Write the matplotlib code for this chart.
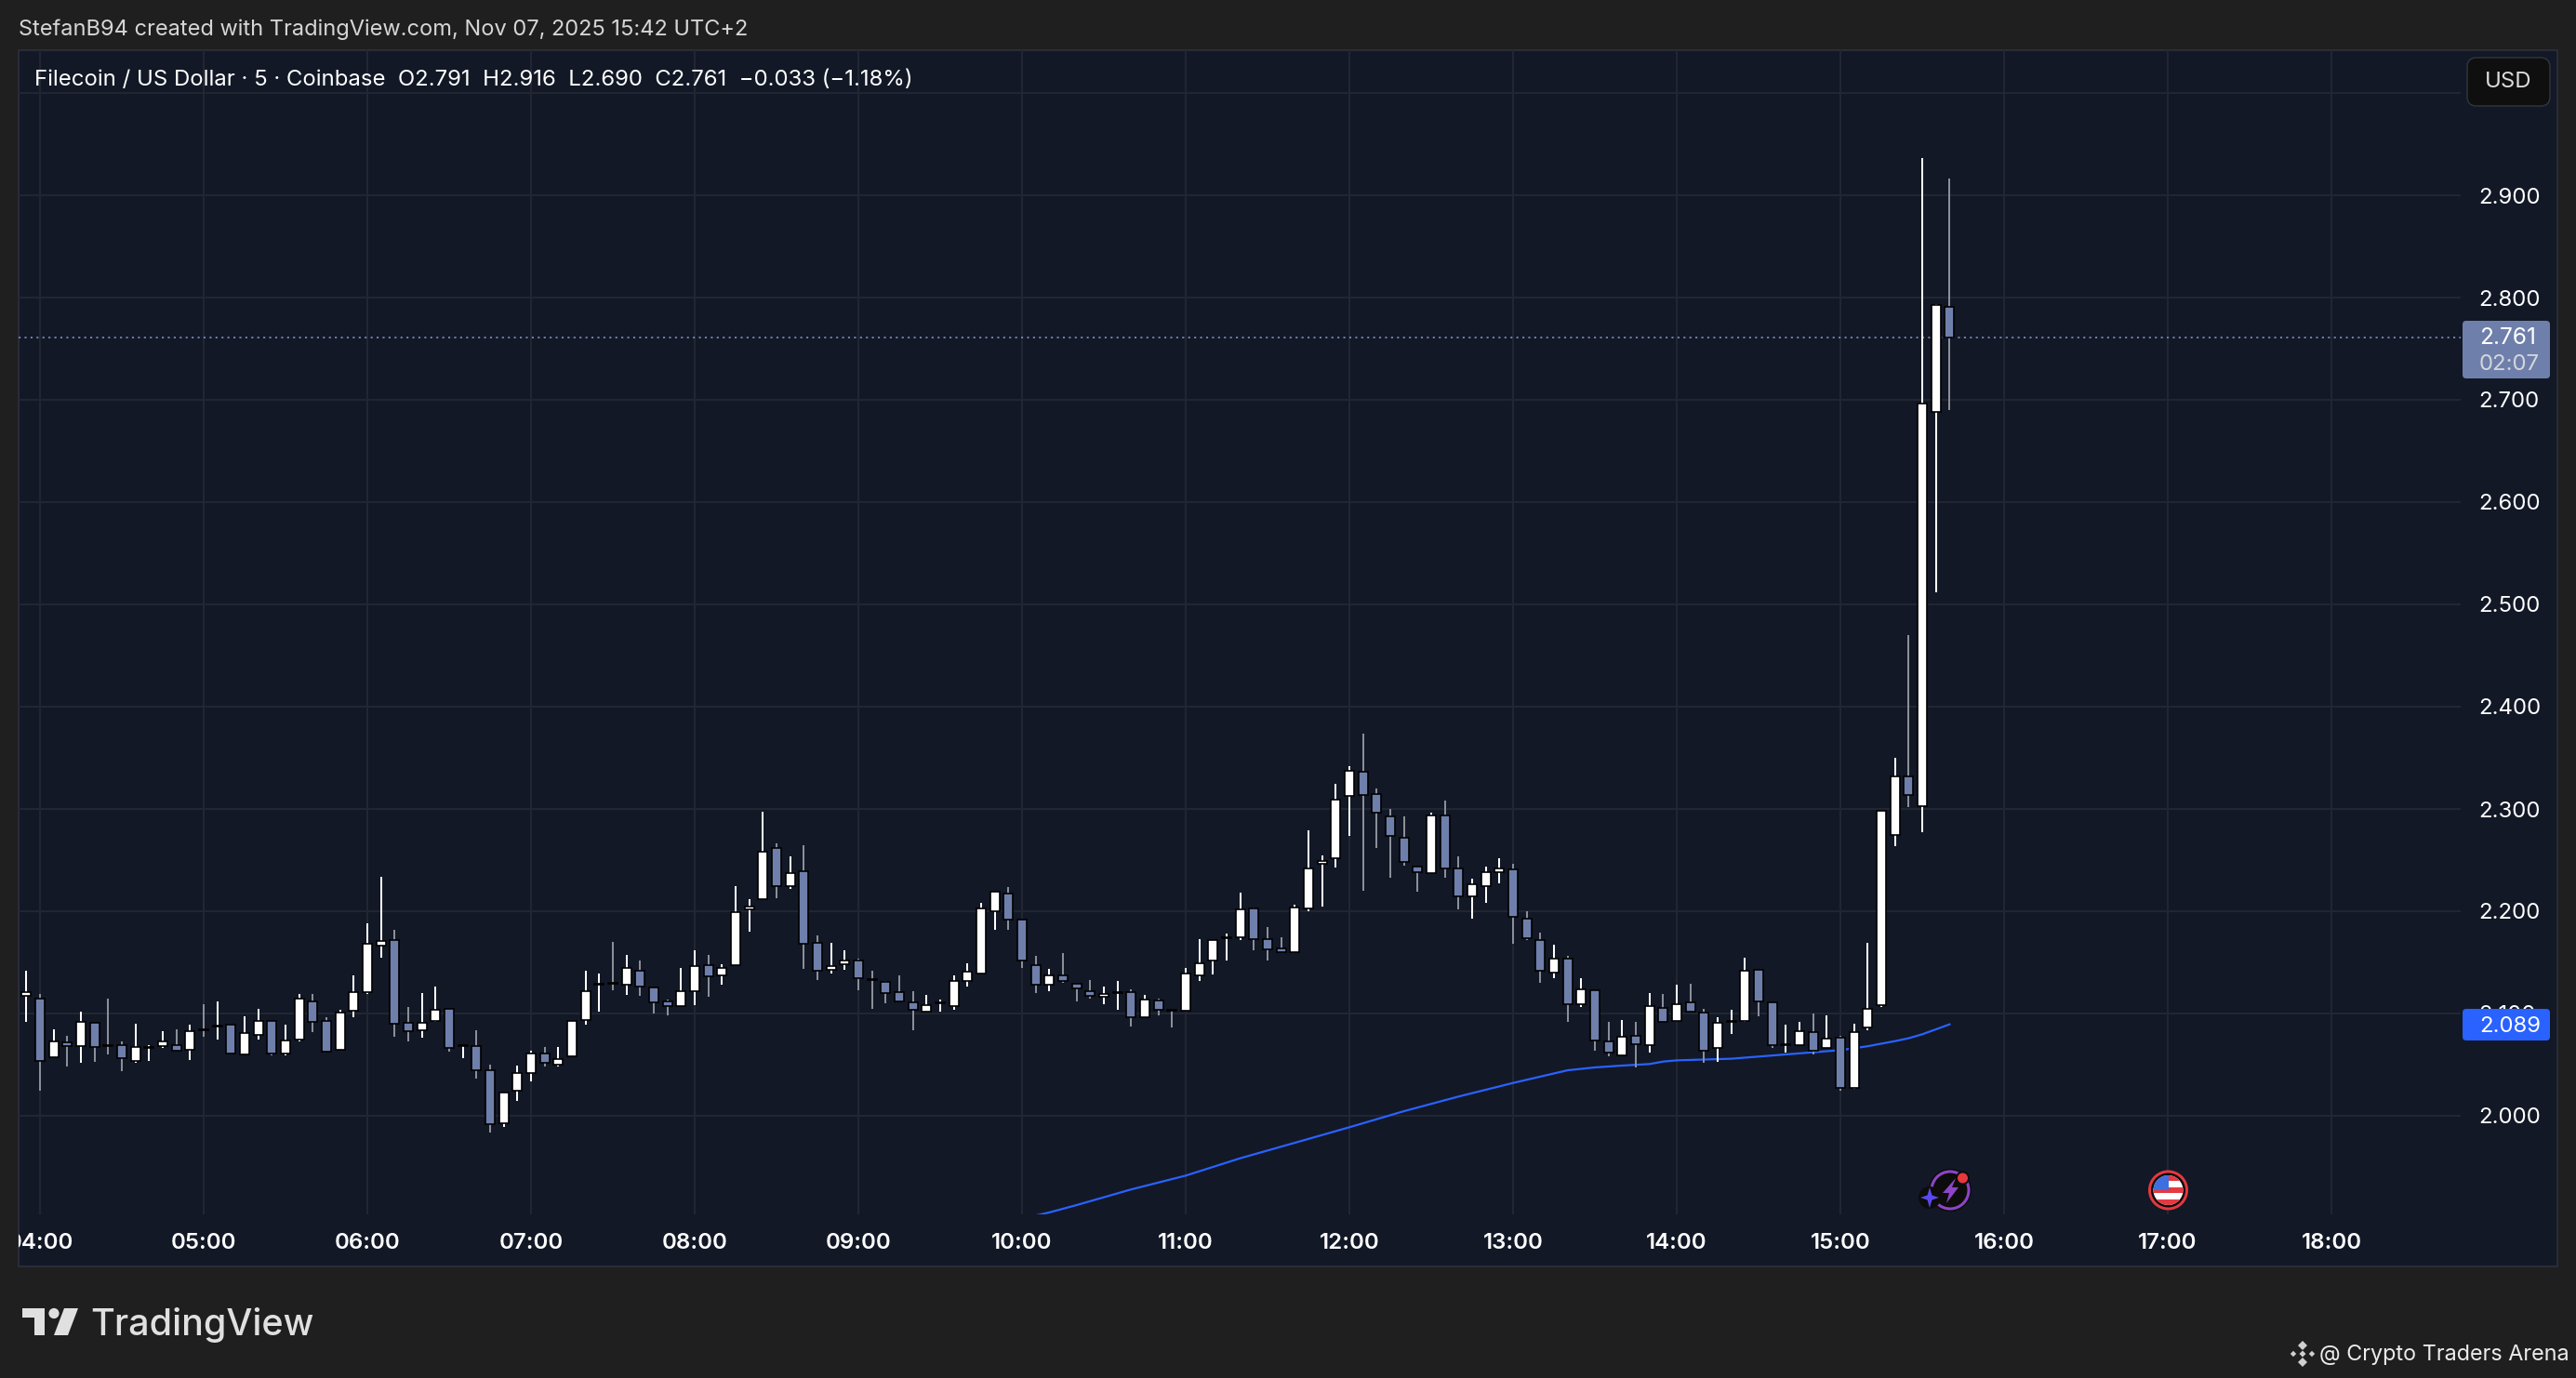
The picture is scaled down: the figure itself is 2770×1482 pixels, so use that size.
import numpy as np
import matplotlib
matplotlib.use("Agg")
import matplotlib.pyplot as plt
from matplotlib.patches import Rectangle, FancyBboxPatch, Circle, Polygon
from matplotlib.transforms import Affine2D, Bbox

W, H = 2770, 1482
plt.rcParams['font.family'] = ['Inter', 'DejaVu Sans']

# ---------- data: 5-minute candles, index 0 = 04:00 ----------
first_index = -1
opens = [2.117,2.115,2.057,2.072,2.068,2.091,2.069,2.069,2.054,2.066,2.068,2.069,2.065,2.085,2.087,2.089,2.060,2.079,2.093,2.061,
2.075,2.112,2.093,2.065,2.103,2.121,2.166,2.172,2.091,2.084,2.093,2.105,2.068,2.068,2.045,1.993,2.025,2.042,2.061,2.050,
2.058,2.094,2.128,2.130,2.128,2.142,2.125,2.112,2.107,2.122,2.147,2.137,2.147,2.202,2.212,2.262,2.225,2.239,2.169,2.143,
2.148,2.152,2.134,2.131,2.121,2.111,2.102,2.110,2.107,2.132,2.139,2.200,2.217,2.192,2.147,2.128,2.137,2.129,2.122,2.116,
2.120,2.121,2.096,2.113,2.104,2.103,2.137,2.152,2.174,2.175,2.203,2.173,2.164,2.160,2.203,2.246,2.252,2.313,2.336,2.315,
2.293,2.272,2.244,2.237,2.294,2.242,2.215,2.225,2.238,2.241,2.193,2.172,2.140,2.154,2.109,2.123,2.073,2.059,2.078,2.069,
2.105,2.093,2.111,2.101,2.066,2.092,2.093,2.143,2.111,2.069,2.069,2.082,2.066,2.076,2.027,2.086,2.108,2.275,2.332,2.303,
2.688,2.791]
highs = [2.142,2.119,2.085,2.078,2.102,2.091,2.115,2.073,2.090,2.069,2.083,2.085,2.089,2.109,2.112,2.089,2.097,2.105,2.093,2.089,
2.119,2.119,2.096,2.104,2.137,2.188,2.234,2.182,2.106,2.120,2.126,2.105,2.069,2.084,2.050,2.023,2.049,2.064,2.067,2.067,
2.093,2.142,2.139,2.170,2.157,2.152,2.125,2.114,2.145,2.162,2.157,2.148,2.225,2.212,2.297,2.266,2.254,2.265,2.176,2.169,
2.162,2.154,2.142,2.132,2.137,2.122,2.118,2.114,2.137,2.149,2.208,2.219,2.224,2.192,2.156,2.144,2.159,2.129,2.133,2.126,
2.132,2.124,2.118,2.115,2.104,2.145,2.173,2.172,2.178,2.218,2.204,2.185,2.175,2.206,2.279,2.255,2.325,2.342,2.374,2.320,
2.300,2.293,2.244,2.296,2.308,2.254,2.232,2.244,2.252,2.246,2.200,2.179,2.167,2.156,2.135,2.123,2.092,2.094,2.092,2.120,
2.119,2.128,2.129,2.105,2.096,2.104,2.155,2.143,2.111,2.089,2.092,2.100,2.098,2.078,2.090,2.169,2.298,2.350,2.470,2.936,
2.794,2.916]
lows = [2.092,2.025,2.057,2.048,2.052,2.053,2.060,2.044,2.052,2.054,2.066,2.064,2.055,2.077,2.075,2.061,2.060,2.075,2.059,2.059,
2.073,2.082,2.063,2.065,2.096,2.119,2.155,2.077,2.073,2.076,2.092,2.063,2.056,2.036,1.984,1.989,2.015,2.034,2.048,2.048,
2.058,2.089,2.102,2.123,2.118,2.117,2.100,2.098,2.107,2.108,2.116,2.128,2.147,2.180,2.212,2.213,2.222,2.144,2.133,2.139,
2.143,2.123,2.105,2.110,2.112,2.084,2.102,2.102,2.104,2.126,2.139,2.182,2.182,2.145,2.120,2.122,2.130,2.112,2.115,2.109,
2.104,2.087,2.096,2.098,2.086,2.103,2.132,2.138,2.152,2.172,2.162,2.152,2.160,2.160,2.200,2.205,2.243,2.274,2.220,2.262,
2.233,2.245,2.219,2.237,2.233,2.202,2.193,2.208,2.227,2.168,2.172,2.130,2.135,2.092,2.106,2.064,2.058,2.059,2.047,2.062,
2.092,2.093,2.102,2.052,2.053,2.080,2.092,2.097,2.066,2.062,2.069,2.060,2.066,2.025,2.026,2.084,2.106,2.264,2.302,2.277,
2.512,2.690]
closes = [2.121,2.054,2.073,2.068,2.092,2.067,2.068,2.056,2.067,2.067,2.073,2.064,2.083,2.084,2.088,2.061,2.081,2.093,2.061,2.074,
2.115,2.092,2.063,2.101,2.121,2.168,2.171,2.090,2.083,2.091,2.104,2.066,2.069,2.045,1.992,2.023,2.042,2.061,2.052,2.055,
2.093,2.122,2.129,2.129,2.145,2.126,2.111,2.107,2.122,2.146,2.136,2.145,2.199,2.205,2.258,2.225,2.237,2.168,2.142,2.146,
2.152,2.135,2.133,2.120,2.112,2.104,2.108,2.111,2.132,2.141,2.203,2.219,2.192,2.152,2.128,2.137,2.132,2.125,2.117,2.119,
2.121,2.096,2.114,2.104,2.103,2.139,2.149,2.172,2.175,2.202,2.173,2.163,2.160,2.204,2.242,2.249,2.309,2.337,2.314,2.296,
2.274,2.248,2.238,2.294,2.242,2.215,2.226,2.238,2.242,2.195,2.174,2.142,2.154,2.109,2.124,2.074,2.062,2.077,2.070,2.107,
2.092,2.109,2.102,2.064,2.091,2.093,2.142,2.112,2.069,2.070,2.083,2.064,2.075,2.027,2.082,2.105,2.298,2.332,2.314,2.696,
2.793,2.761]

ema_index = [73,74,76,80,84,88,92,96,100,104,108,112,114,116,118,119,120,124,128,132,134,136,137,138,139,140]
ema_values = [1.9025,1.9055,1.9127,1.928,1.9415,1.9585,1.9736,1.9888,2.0045,2.0188,2.0321,2.0445,2.0473,2.0491,2.0506,2.053,2.0542,2.0558,2.060,2.0642,2.068,2.073,2.0758,2.0797,2.0845,2.0894]

hour_ticks = list(range(0, 169, 12))
hour_labels = ['04:00','05:00','06:00','07:00','08:00','09:00','10:00','11:00','12:00','13:00','14:00','15:00','16:00','17:00','18:00']
price_ticks = [2.0,2.1,2.2,2.3,2.4,2.5,2.6,2.7,2.8,2.9,3.0]
price_labels = ['2.000','2.100','2.200','2.300','2.400','2.500','2.600','2.700','2.800','2.900','']
last_price = 2.761
ema_last = 2.089

HEADER = "StefanB94 created with TradingView.com, Nov 07, 2025 15:42 UTC+2"
TITLE = "Filecoin / US Dollar \u00b7 5 \u00b7 Coinbase  O2.791  H2.916  L2.690  C2.761  \u22120.033 (\u22121.18%)"

# ---------- style ----------
PAGE = '#1f1f1f'; PANE = '#121826'; BORDER = '#2a2d38'; GRID = '#222632'
UP = '#ffffff'; DOWN = '#6f7fab'; DOWN_WICK = '#8b8f99'; EMA = '#2962ff'

fig = plt.figure(figsize=(W/100, H/100), dpi=100, facecolor=PAGE)
PX = Affine2D().scale(1, -1).translate(0, H)   # figure chrome in image pixels

def add(p, z=1):
    p.set_transform(PX); p.set_zorder(z); fig.add_artist(p); return p

def txt(x, y, s, size, color='white', ha='left', va='center', weight='normal', z=6, **kw):
    return fig.text(x/W, 1-y/H, s, fontsize=size*0.72, color=color, ha=ha, va=va,
                    fontweight=weight, zorder=z, **kw)

add(Rectangle((20, 54), 2730, 1308, fc=PANE, ec=BORDER, lw=1.5), z=-1)

# axes spans the drawing pane
L, R, T, B = 20, 2646, 54, 1306
ax = fig.add_axes([L/W, 1-B/H, (R-L)/W, (B-T)/H], facecolor='none', zorder=0)
ax.set_xlim((L-43)/(176/12), (R-43)/(176/12))
ax.set_ylim(2+(1200-B)/1100, 2+(1200-T)/1100)
for s in ax.spines.values():
    s.set_visible(False)
ax.grid(True, color=GRID, lw=1.44)
ax.set_axisbelow(True)
ax.set_xticks(hour_ticks, hour_labels)
ax.set_yticks(price_ticks, price_labels)
ax.yaxis.tick_right()
ax.tick_params(axis='x', length=0, pad=14.2, labelsize=17.3, labelcolor='white')
ax.tick_params(axis='y', length=0, pad=14.2, labelsize=17.3, labelcolor='white')
for lab in ax.get_xticklabels():
    lab.set_fontweight(600)

idx = np.arange(first_index, first_index+len(opens))
o, h, l, c = map(np.array, (opens, highs, lows, closes))
up = c >= o
ax.axhline(last_price, color=DOWN, lw=1.4, ls=(0, (1.1, 2.2)), zorder=1.5)
ax.plot(ema_index, ema_values, color=EMA, lw=1.6, zorder=2)
ax.vlines(idx, l, h, colors=np.where(up, UP, DOWN_WICK), lw=1.44, zorder=3)
ax.bar(idx, np.abs(c-o), bottom=np.minimum(o, c), width=0.70, color=np.where(up, UP, DOWN),
       edgecolor='black', linewidth=1.2, zorder=4)

fig.canvas.draw()
for lab in ax.get_xticklabels():
    lab.set_clip_box(Bbox.from_extents(L, 0, W, H))
    lab.set_clip_on(True)

# header
txt(20, 32, HEADER, 23.6, color='#d6d6d6')
txt(37, 86, TITLE, 23.95, color='white')

# USD button
add(FancyBboxPatch((2653+10, 62+10), 89-20, 52-20, boxstyle='round,pad=10,rounding_size=10',
                   fc='#0f0f0f', ec='#33363f', lw=1), z=5)
txt(2697, 88, 'USD', 24, color='#dcdcdc', ha='center')

# price badges
add(FancyBboxPatch((2648, 345), 94, 62, boxstyle='round,pad=0,rounding_size=4', fc=DOWN, ec='none'), z=5)
txt(2666, 364, f'{last_price:.3f}', 24.5)
txt(2666, 392, '02:07', 24, color='#d4d6dc')
add(FancyBboxPatch((2648, 1085), 94, 34, boxstyle='round,pad=0,rounding_size=4', fc=EMA, ec='none'), z=5)
txt(2666, 1104, f'{ema_last:.3f}', 24)

# event icons
cx, cy = 2331.5, 1280
add(Circle((cx, cy), 21.5, fc='#e5383f', ec='none'), z=3)
add(Circle((cx, cy), 18.5, fc='#0c0c0c', ec='none'), z=3.1)
add(Circle((cx, cy), 16, fc='white', ec='none'), z=3.2)
clip = Circle((cx, cy), 16, transform=PX)
for k in range(0, 5):
    if k % 2 == 0:
        r = add(Rectangle((cx-16, cy-16+k*6.4), 32, 6.4, fc='#e5383f', ec='none'), z=3.3)
        r.set_clip_path(clip)
r = add(Rectangle((cx-16, cy-16), 16, 16, fc='#3d6fe0', ec='none'), z=3.4)
r.set_clip_path(clip)

bx, by = 2097, 1280
add(Circle((bx, by), 23, fc='#0c0c0c', ec='none'), z=3)
add(Circle((bx, by), 20, fc='none', ec='#8e44c7', lw=2.2), z=3.1)
add(Polygon([(bx+6, by-13), (bx-8, by+3), (bx-1, by+3), (bx-4, by+14), (bx+9, by-3), (bx+2, by-3)],
            closed=True, fc='#8e44c7', ec='none'), z=3.2)
sx, sy = 2075, 1288
add(Circle((sx, sy), 12, fc='#0c0c0c', ec='none'), z=3.3)
add(Polygon([(sx, sy-11), (sx+2.5, sy-2.5), (sx+10, sy), (sx+2.5, sy+2.5), (sx, sy+11),
             (sx-2.5, sy+2.5), (sx-10, sy), (sx-2.5, sy-2.5)], closed=True, fc='#5a49ee', ec='none'), z=3.4)
add(Circle((2110.5, 1267), 7.5, fc='#0c0c0c', ec='none'), z=3.3)
add(Circle((2110.5, 1267), 5.5, fc='#e5383f', ec='none'), z=3.4)

# TradingView logo
LOGO = '#e0e0e0'
add(Polygon([(24, 1407), (48, 1407), (48, 1436), (37, 1436), (37, 1417), (24, 1417)], closed=True, fc=LOGO, ec='none'))
add(Circle((58, 1412.5), 5.6, fc=LOGO, ec='none'))
add(Polygon([(69, 1407), (84, 1407), (73, 1436), (58, 1436)], closed=True, fc=LOGO, ec='none'))
txt(97, 1436, 'TradingView', 39.5, color=LOGO, va='baseline', weight=500)

# watermark
WM = '#d0d0d0'
dx, dy = 2476, 1456
for ox, oy, s in [(0, -9, 5), (0, 9, 5), (-10, 0, 3.2), (10, 0, 3.2), (0, 0, 3.5)]:
    add(Polygon([(dx+ox, dy+oy-s), (dx+ox+s, dy+oy), (dx+ox, dy+oy+s), (dx+ox-s, dy+oy)], closed=True, fc=WM, ec='none'))
txt(2763, 1457, '@ Crypto Traders Arena', 23.4, color='#ececec', ha='right')

fig.savefig('out.png', dpi=100, facecolor=PAGE)
